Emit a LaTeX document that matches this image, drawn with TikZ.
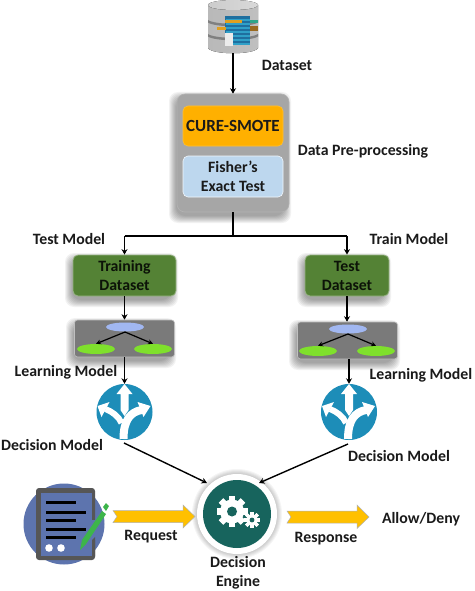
\documentclass[tikz,border=0pt]{standalone}
\usepackage{fontspec}
\setmainfont{Carlito}
\usetikzlibrary{arrows.meta,shapes.geometric}
\definecolor{txt}{HTML}{1A1A1A}
\definecolor{greybox}{HTML}{A6A6A6}
\definecolor{treebox}{HTML}{7A7A7A}
\definecolor{orangebox}{HTML}{FFB000}
\definecolor{bluebox}{HTML}{BDD7EE}
\definecolor{greenbox}{HTML}{548235}
\definecolor{leaf}{HTML}{7FE02C}
\definecolor{forkblue}{HTML}{1D8DB8}
\definecolor{teal}{HTML}{17645D}
\definecolor{docblue}{HTML}{5D74AE}
\definecolor{docgrey}{HTML}{565656}
\definecolor{pen}{HTML}{3DB54A}
\definecolor{arrowyellow}{HTML}{FFC000}
\definecolor{dbdark}{HTML}{1F6F9F}
\definecolor{dblight}{HTML}{2FA0C8}
\definecolor{dbgold}{HTML}{E0A020}
\definecolor{dbbrown}{HTML}{9A6A20}
\definecolor{dbsea}{HTML}{2FA58A}
\tikzset{
  lab/.style={font=\bfseries\fontsize{15.8}{17}\selectfont, text=txt, inner sep=0pt, align=center},
  arr/.style={draw=black, line width=1.4pt, -{Stealth[length=5.5pt,width=6pt]}},
  plain/.style={draw=black, line width=1.4pt},
  treearr/.style={draw=black, line width=1.2pt, -{Stealth[length=5pt,width=5pt]}},
  prepbox/.style={rectangle, rounded corners=8pt, fill=greybox, draw=gray!60, line width=.6pt, inner sep=0pt},
  orange/.style={rectangle, rounded corners=5pt, fill=orangebox, draw=orangebox!80!white, line width=.6pt, inner sep=0pt, font=\bfseries\fontsize{17}{19}\selectfont, text=txt},
  paleblue/.style={rectangle, rounded corners=5pt, fill=bluebox, draw=white!80!bluebox, line width=.6pt, inner sep=0pt, align=center, font=\bfseries\fontsize{15.8}{19}\selectfont, text=txt},
  greenrect/.style={rectangle, rounded corners=5pt, fill=greenbox, draw=greenbox!60!white, line width=.8pt, inner sep=0pt, align=center, minimum width=103pt, minimum height=41pt, font=\bfseries\fontsize{15.8}{19}\selectfont, text=black!85!greenbox},
  treerect/.style={rectangle, rounded corners=3pt, fill=treebox, draw=gray!50, line width=.6pt, inner sep=0pt, minimum width=100pt, minimum height=37pt},
  topell/.style={ellipse, fill=bluebox!85!blue, inner sep=0pt, minimum width=38pt, minimum height=9pt},
  leafell/.style={ellipse, fill=leaf, inner sep=0pt, minimum width=38pt, minimum height=10pt},
  forkcirc/.style={circle, fill=forkblue, inner sep=0pt, minimum size=56pt},
  yarrow/.style={fill=arrowyellow, draw=gray!60, line width=.5pt},
}
\newcommand{\softshadow}[4]{%
  \foreach \k in {0,...,7}{%
    \fill[black, opacity=.05, rounded corners=9pt]
      ({#1-8+\k},{#2-2+\k}) rectangle ({#3+2-\k},{#4+11-\k});
  }}
\newcommand{\forkicon}[2]{%
  \begin{scope}[shift={(#1,#2)}]
    \fill[white] (-4,-2) -- (-4,-18) -- (-8,-18) -- (0,-28) -- (8,-18) -- (4,-18) -- (4,-2) -- (0,4) -- cycle;
    \draw[white, line width=8pt] (-1,27) .. controls (-1,8) and (6,0) .. (17,-2);
    \fill[white] (26,-6) -- (13,-10) -- (19,5) -- cycle;
    \draw[white, line width=6pt] (-3,11) .. controls (-6,4) and (-12,0) .. (-19,-3);
    \fill[white] (-27,-6) -- (-15,-10) -- (-23,5) -- cycle;
  \end{scope}}
\newcommand{\geargl}[6]{% x y outer-radius body-radius teeth hole
  \foreach \t in {1,...,#5}{%
    \fill[white, shift={(#1,#2)}, rotate={\t*360/#5}] ({-#3*.2},{-#3}) rectangle ({#3*.2},{#3});
  }
  \fill[white] (#1,#2) circle[radius=#4];
  \fill[teal] (#1,#2) circle[radius=#6];
}
\begin{document}
\begin{tikzpicture}[x=1pt,y=-1pt]
\useasboundingbox (0,0) rectangle (474,591);
\fill[white] (0,0) rectangle (474,591);

% --- database
\node[inner sep=0pt, minimum width=50pt, minimum height=53pt] (db) at (233,26.5) {};
\fill[left color=gray!55, middle color=white, right color=gray!50]
  (208,5) -- (208,48) .. controls (212,55) and (254,55) .. (258,48) -- (258,5) -- cycle;
\fill[left color=gray!40, middle color=white, right color=gray!30] (233,5) ellipse[x radius=25, y radius=5];
\fill[black!50] (208,20) .. controls (215,25) and (250,25) .. (258,20) -- (258,22.5) .. controls (250,27.5) and (215,27.5) .. (208,22.5) -- cycle;
\fill[black!50] (208,34) .. controls (215,39) and (250,39) .. (258,34) -- (258,36.5) .. controls (250,41.5) and (215,41.5) .. (208,36.5) -- cycle;
\fill[dbdark] (225,16) rectangle (250,45);
\foreach \yy in {19,23,27,31,35,39,43}{\fill[dblight] (226,\yy) rectangle (250,{\yy+1.6});}
\fill[white!85!gray] (225,33) rectangle (233,46);
\fill[dbgold] (225,20.5) rectangle (242,23.5);
\fill[dbgold] (217,27.5) rectangle (226,30.5);
\fill[dbbrown] (250,26) rectangle (258,31);
\fill[dbsea] (250,20) rectangle (258,23);

% --- pre-processing
\softshadow{177}{94}{289}{212}
\node[prepbox, minimum width=112pt, minimum height=118pt] (prep) at (233,153) {};
\node[orange, minimum width=100pt, minimum height=40pt] (cure) at (233,126) {CURE-SMOTE};
\node[paleblue, minimum width=100pt, minimum height=41pt] (fisher) at (233,176.5) {Fisher’s\\Exact Test};

% --- junction
\coordinate (jn) at (233,236);
\coordinate (jl) at (124.5,236);
\coordinate (jr) at (347,236);

% --- left branch
\softshadow{73}{255}{176}{296}
\node[greenrect] (train) at (124.5,275.5) {Training\\Dataset};
\softshadow{74}{320}{174}{357}
\node[treerect] (treeL) at (124.5,338.5) {};
\node[topell] (topL) at (125,327) {};
\node[leafell] (leafLa) at (96,349) {};
\node[leafell] (leafLb) at (153,349) {};
\coordinate (sL) at (125,332);
\node[forkcirc] (forkL) at (124.5,412) {};
\forkicon{124.5}{412}

% --- right branch
\softshadow{305}{255}{389}{296}
\node[greenrect, minimum width=84pt] (test) at (347,275.5) {Test\\Dataset};
\softshadow{297}{322}{398}{359}
\node[treerect] (treeR) at (347.5,340.5) {};
\node[topell] (topR) at (348,329) {};
\node[leafell] (leafRa) at (318,351) {};
\node[leafell] (leafRb) at (376,351) {};
\coordinate (sR) at (348,334);
\node[forkcirc] (forkR) at (349,412) {};
\forkicon{349}{412}

% --- engine
\foreach \k in {0,...,5}{\fill[black, opacity=.04] (237,514) circle[radius={45-\k}];}
\node[circle, fill=white, inner sep=0pt, minimum size=80pt] (engine) at (237,514) {};
\node[circle, fill=teal, inner sep=0pt, minimum size=68pt] (engineIn) at (237,514) {};
\geargl{232}{511.5}{15.5}{12}{8}{5}
\geargl{252}{520}{8}{5.6}{8}{2.4}

% --- document icon
\node[circle, fill=docblue, inner sep=0pt, minimum size=81pt] (doc) at (64,524) {};
\fill[docgrey, rounded corners=3pt] (36,488) rectangle (95,560);
\fill[docblue] (41,493) rectangle (92,556);
\foreach \ya/\xb in {502/76,512/86,520/76,529/86,537/76}{\fill[black] (46,{\ya-1.5}) rectangle (\xb,{\ya+1.5});}
\fill[white] (49,548) circle[radius=3.8];
\fill[white] (61,548) circle[radius=3.8];
\fill[docblue] (90,520) rectangle (96,540);
\fill[docgrey] (92,540) -- (95,537) -- (95,556) -- (92,556) -- cycle;
\fill[pen] (80,550) -- (82,540) -- (102,511) -- (106,514) -- (86,544) -- cycle;
\fill[pen] (103,507) -- (106,503) -- (109,506) -- (106,511) -- cycle;

% --- yellow arrows
\draw[yarrow] (113,510.5) -- (183,510.5) -- (183,505) -- (195,516.5) -- (183,528) -- (183,522.5) -- (113,522.5) -- (117,516.5) -- cycle;
\draw[yarrow] (287,511) -- (357,511) -- (357,505) -- (369,517) -- (357,528.5) -- (357,523) -- (287,523) -- (291,517) -- cycle;

% --- connectors
\draw[arr] (db.south) -- (prep.north);
\draw[plain] (prep.south) -- (jn);
\draw[plain] (jl) -- (jr);
\draw[arr] (jl) -- (train.north);
\draw[arr] (jr) -- (test.north);
\draw[arr] (train.south) -- (treeL.north);
\draw[arr] (test.south) -- ([xshift=-.5pt]treeR.north);
\draw[treearr] (sL) -- (leafLa.north);
\draw[treearr] (sL) -- (leafLb.north);
\draw[treearr] (sR) -- (leafRa.north);
\draw[treearr] (sR) -- (leafRb.north);
\draw[arr] (treeL.south) -- (forkL.north);
\draw[arr] ([xshift=1.5pt]treeR.south) -- (forkR.north);
\coordinate (endL) at (207,483);
\coordinate (endR) at (259,483);
\coordinate (startL) at (124,443);
\coordinate (startR) at (348,444);
\draw[arr] (startL) -- (endL);
\draw[arr] (startR) -- (endR);

% --- labels
\node[lab] (lDataset) at (287,65) {Dataset};
\node[lab] (lPre) at (363,151) {Data Pre-processing};
\node[lab] (lTest) at (69,239) {Test Model};
\node[lab] (lTrain) at (409,239) {Train Model};
\node[lab] (lLearnL) at (66,372) {Learning Model};
\node[lab] (lLearnR) at (421,375) {Learning Model};
\node[lab] (lDecL) at (52,445) {Decision Model};
\node[lab] (lDecR) at (399,456) {Decision Model};
\node[lab] (lReq) at (151,537) {Request};
\node[lab] (lResp) at (326,539) {Response};
\node[lab] (lAllow) at (421,519) {Allow/Deny};
\node[lab, font=\bfseries\fontsize{15.8}{19.5}\selectfont] (lEngine) at (238,573) {Decision\\Engine};
\end{tikzpicture}
\end{document}
